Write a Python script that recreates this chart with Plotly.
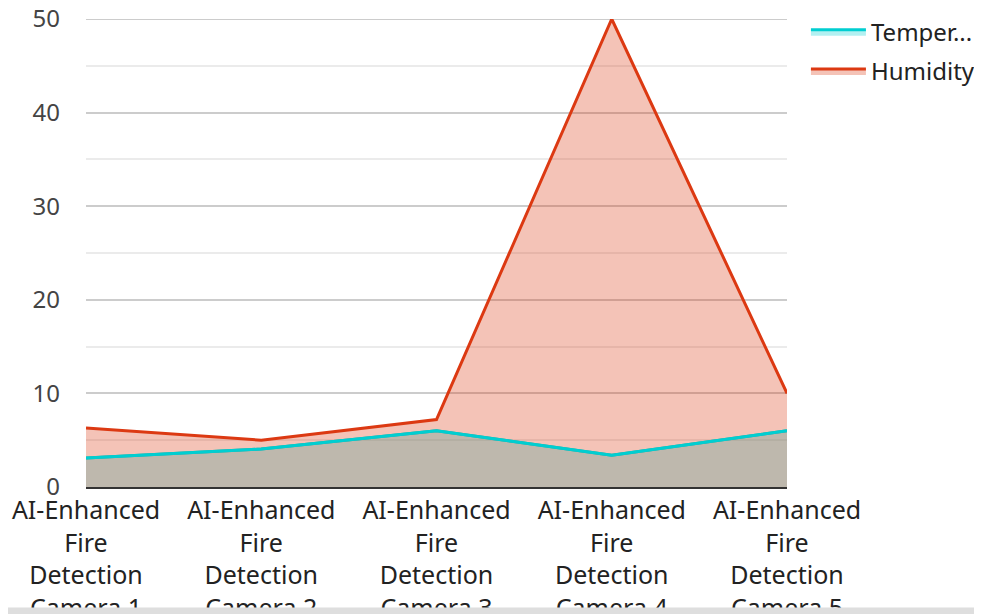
import plotly.graph_objects as go

categories = [
    "AI-Enhanced<br>Fire<br>Detection<br>Camera 1",
    "AI-Enhanced<br>Fire<br>Detection<br>Camera 2",
    "AI-Enhanced<br>Fire<br>Detection<br>Camera 3",
    "AI-Enhanced<br>Fire<br>Detection<br>Camera 4",
    "AI-Enhanced<br>Fire<br>Detection<br>Camera 5",
]
temperature = [3.1, 4.05, 6.0, 3.4, 6.0]
humidity = [6.3, 5.0, 7.2, 50, 10.0]
y_ticks = [0, 10, 20, 30, 40, 50]

FONT = "Noto Sans"
CYAN = "#00CED1"
RED = "#DC3912"

fig = go.Figure()
fig.add_trace(go.Scatter(
    x=categories, y=temperature, name="Temper...", mode="lines",
    line=dict(color=CYAN, width=3), fill="tozeroy",
    fillcolor="rgba(0,206,209,0.3)", legendgroup="t",
))
fig.add_trace(go.Scatter(
    x=categories, y=humidity, name="Humidity", mode="lines",
    line=dict(color=RED, width=3), fill="tozeroy",
    fillcolor="rgba(220,57,18,0.3)", legendgroup="h",
))
# redraw temperature line above the humidity fill
fig.add_trace(go.Scatter(
    x=categories, y=temperature, name="Temper...", mode="lines",
    line=dict(color=CYAN, width=3), showlegend=False, legendgroup="t",
))

W, H = 982, 614
top, left = 11, 78
pw, ph = 701, 468
right = W - left - pw
bottom = H - top - ph
OFF = 8  # page offset

def py(p):
    return (top + ph - (p - OFF)) / ph

# top gridline (plotly drops the grid line sitting on the plot edge)
fig.add_shape(type="line", xref="paper", yref="y", x0=0, x1=1,
              y0=y_ticks[-1], y1=y_ticks[-1],
              line=dict(color="#cccccc", width=2), layer="below")
# bottom strip of the page
fig.add_shape(type="rect", xref="paper", yref="paper", x0=-0.2, x1=1.4,
              y0=py(616), y1=py(607.5), fillcolor="#dedede",
              line=dict(width=0), layer="above")

fig.update_layout(
    width=W, height=H,
    margin=dict(l=left, r=right, t=top, b=bottom, autoexpand=False),
    paper_bgcolor="white", plot_bgcolor="white",
    font=dict(family=FONT, size=24, color="#444444"),
    showlegend=True,
    legend=dict(x=1.027, y=1.02, xanchor="left", yanchor="top",
                font=dict(family=FONT, size=24, color="#222222"),
                tracegroupgap=5, itemwidth=55, traceorder="grouped"),
    xaxis=dict(range=[0, 4], showgrid=False, showline=True,
               linecolor="#333333", linewidth=2, ticks="",
               automargin=False, ticklabeloverflow="allow",
               tickfont=dict(family=FONT, size=25, color="#222222"),
               fixedrange=True),
    yaxis=dict(range=[0, 50], tickvals=y_ticks, showgrid=True,
               gridcolor="#cccccc", gridwidth=2, zeroline=False,
               ticks="", ticklabelstandoff=25, automargin=False,
               ticklabeloverflow="allow",
               tickfont=dict(family=FONT, size=24, color="#444444"),
               minor=dict(dtick=5, showgrid=True, gridcolor="#ebebeb",
                          gridwidth=2)),
)

fig.write_html("out.html")
